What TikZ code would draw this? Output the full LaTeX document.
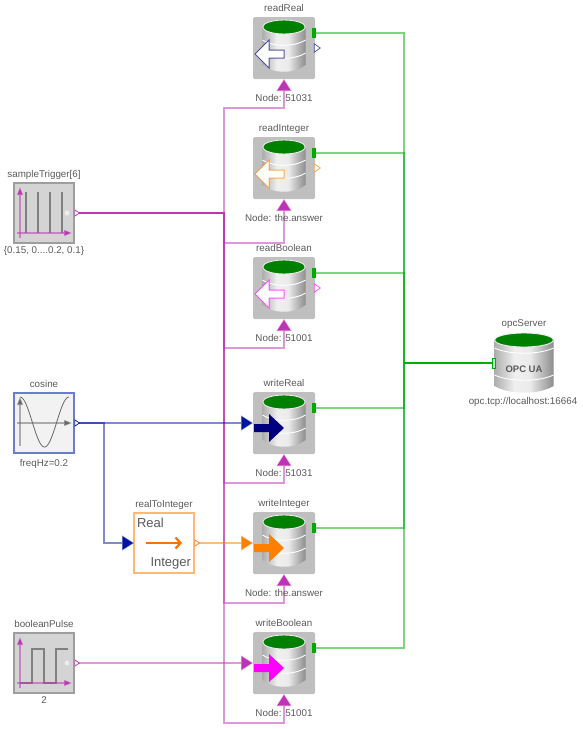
\documentclass[tikz,border=0pt]{standalone}
\usepackage{fontspec}
\setmainfont{Liberation Sans}
\usepackage{xcolor}
\usetikzlibrary{arrows.meta,positioning,shapes.geometric,calc}

\definecolor{opcBlue}{RGB}{0,0,127}
\definecolor{opcOrange}{RGB}{255,127,0}
\definecolor{opcPink}{RGB}{255,0,255}
\definecolor{wirePink}{RGB}{190,50,180}
\definecolor{wireBlue}{RGB}{0,20,160}
\definecolor{wireGreen}{RGB}{0,170,0}
\definecolor{labelGray}{RGB}{90,90,90}
\definecolor{drumGreen}{RGB}{0,128,0}
\definecolor{sineEdge}{RGB}{105,125,205}

\pgfdeclarehorizontalshading{drumshade}{100bp}{
  color(0bp)=(black!32); color(25bp)=(black!32); color(42bp)=(black!6);
  color(55bp)=(black!8); color(75bp)=(black!45); color(100bp)=(black!45)}

% center, half width, top, bottom, first ring, second ring
\newcommand{\dbdrum}[6]{
  \begin{scope}[shift={(#1)}]
    \shade[shading=drumshade] (-#2,#3) -- (-#2,#4) .. controls (-#2*.5,#4+9) and (#2*.5,#4+9) .. (#2,#4) -- (#2,#3) -- cycle;
    \draw[white,line width=.9pt] (-#2,#5) .. controls (-#2*.5,#5+7) and (#2*.5,#5+7) .. (#2,#5);
    \draw[white,line width=.9pt] (-#2,#6) .. controls (-#2*.5,#6+7) and (#2*.5,#6+7) .. (#2,#6);
    \draw[black!8,fill=drumGreen,line width=.9pt] (0,#3) ellipse ({#2-.2} and 7);
  \end{scope}
}

\tikzset{
  every node/.style={font=\fontsize{9.8}{12}\selectfont,text=labelGray,inner sep=0pt,outer sep=0pt},
  blocklabel/.style={text height=7.5pt,text depth=2pt},
  dbblock/.style={fill=black!25,rounded corners=1.5pt,minimum size=62pt},
  srcblock/.style={draw=black!38,fill=black!17,line width=1.3pt,minimum size=60pt},
  sineblock/.style={draw=sineEdge,fill=black!5,line width=1.3pt,minimum size=60pt},
  convblock/.style={draw=opcOrange!55,fill=white,line width=1.3pt,minimum size=60pt},
  portgreen/.style={fill=wireGreen,minimum width=4pt,minimum height=10pt},
  portopen/.style={draw=wireGreen,fill=wireGreen!25,line width=.8pt,minimum width=3.5pt,minimum height=10pt},
  outport/.style={isosceles triangle,isosceles triangle apex angle=70,draw,fill=white,line width=.7pt,minimum size=4.5pt},
  bigoutport/.style={outport,minimum size=6pt},
  wire/.style={line width=1.3pt,draw opacity=.5,line join=miter},
  pinkwire/.style={wire,draw=wirePink,-{Triangle[length=12pt,width=15pt]}},
  bluewire/.style={wire,draw=wireBlue,-{Triangle[length=12pt,width=15pt]}},
  orangewire/.style={wire,draw=opcOrange,-{Triangle[length=12pt,width=15pt]}},
  greenwire/.style={wire,draw=wireGreen},
  axis/.style={line width=1.3pt,draw opacity=.5,-{Triangle[length=8pt,width=6pt]}}
}

\begin{document}
\begin{tikzpicture}[x=1pt,y=-1pt]
\useasboundingbox (0,0) rectangle (582,729);

% database blocks
\foreach \bname/\by/\bcol in {readReal/48/opcBlue,readInteger/168/opcOrange,readBoolean/288/opcPink}{
  \node[dbblock] (\bname) at (284,\by) {};
  \dbdrum{\bname}{21.5}{-21}{17}{-8}{5}
  \draw[draw=\bcol,draw opacity=.65,fill=white,line width=1pt,shift={(\bname)}]
    (-29,6) -- (-15,-8) -- (-15,2) -- (0,2) -- (0,10) -- (-15,10) -- (-15,20) -- cycle;
  \node[portgreen] (\bname Port) at (314,\by-15) {};
  \node[bigoutport,draw=\bcol!70] (\bname Out) at (316.5,\by) {};
}
\foreach \bname/\by/\bcol in {writeReal/423/opcBlue,writeInteger/543/opcOrange,writeBoolean/663/opcPink}{
  \node[dbblock] (\bname) at (284,\by) {};
  \dbdrum{\bname}{21.5}{-21}{17}{-8}{5}
  \fill[\bcol,shift={(\bname)}]
    (0,5) -- (-15,-9) -- (-15,1) -- (-30,1) -- (-30,9) -- (-15,9) -- (-15,19) -- cycle;
  \node[portgreen] (\bname Port) at (314,\by-15) {};
}

% server
\coordinate (opcServer) at (524,363);
\dbdrum{opcServer}{29.5}{-23}{23}{-15}{12}
\node[portopen] (opcPort) at (494,363) {};
\node[font=\fontsize{9.5}{12}\selectfont\bfseries] (opcText) at (524,369) {OPC UA};

% sources
\node[srcblock] (sampleTrigger) at (44,213) {};
\node[sineblock] (cosine) at (44,423) {};
\node[convblock] (realToInteger) at (164,543) {};
\node[srcblock] (booleanPulse) at (44,663) {};

\begin{scope}[shift={(sampleTrigger)}]
  \foreach \xb in {-18,-6,6,18}{\draw[black!50,line width=1.3pt] (\xb,-21) -- (\xb,20);}
  \draw[axis,draw=wirePink] (-24,25) -- (-24,-26);
  \draw[axis,draw=wirePink] (-27,20) -- (28,20);
  \fill[black!7] (23,0) circle (2.5);
\end{scope}
\begin{scope}[shift={(cosine)}]
  \draw[axis,draw=black!60] (-24,23) -- (-24,-26);
  \draw[axis,draw=black!60] (-27,0) -- (28,0);
  \draw[black!60,line width=.8pt,domain=0:1,samples=40,smooth]
    plot ({-24+49*\x},{-1-25*cos(360*\x)});
\end{scope}
\begin{scope}[shift={(booleanPulse)}]
  \draw[black!50,line width=1.3pt] (-24,20) -- (-12,20) -- (-12,-14) -- (0,-14) -- (0,20) -- (12,20) -- (12,-14) -- (24,-14);
  \draw[axis,draw=wirePink] (-24,25) -- (-24,-26);
  \draw[axis,draw=wirePink] (-27,20) -- (28,20);
  \fill[black!7] (23,0) circle (2.5);
\end{scope}
\draw[opcOrange!90!red,line width=2.2pt,-{Straight Barb[length=5pt,width=11pt]}] (146,543) -- (182,543);

\node[outport,draw=wirePink] (sampleTriggerOut) at (76.5,213) {};
\node[outport,draw=wireBlue] (cosineOut) at (76.5,423) {};
\node[outport,draw=opcOrange] (realToIntegerOut) at (196.5,543) {};
\node[outport,draw=wirePink] (booleanPulseOut) at (76.5,663) {};

% connectors
\coordinate (busTop) at (224,213);
\coordinate (cosineFork) at (104,423);
\foreach \bname/\busy in {readReal/108,readInteger/243,readBoolean/348,writeReal/483,writeInteger/603,writeBoolean/723}{
  \draw[pinkwire] (sampleTriggerOut.east) -- (busTop) |- (\bname.south |- 0,\busy) -- (\bname.south);
}
\draw[bluewire] (cosineOut.east) -- (writeReal.west);
\draw[bluewire] (cosineOut.east) -- (cosineFork) |- (realToInteger.west);
\draw[orangewire] (realToIntegerOut.east) -- (writeInteger.west);
\draw[pinkwire] (booleanPulseOut.east) -- (writeBoolean.west);
\coordinate (greenBus) at (404,363);
\foreach \bname in {readReal,readInteger,readBoolean,writeReal,writeInteger,writeBoolean}{
  \draw[greenwire] (\bname Port.east) -| (greenBus) -- (opcPort.west);
}

% labels
\foreach \bname/\bnode in {readReal/51031,readInteger/the.answer,readBoolean/51001,writeReal/51031,writeInteger/the.answer,writeBoolean/51001}{
  \node[blocklabel,above=4pt of \bname] (\bname Name) {\bname};
  \node[blocklabel,below=15pt of \bname] (\bname Id) {Node: \bnode};
}
\node[blocklabel] (opcServerName) at (524,324) {opcServer};
\node[blocklabel] (opcUrl) at (523,402) {opc.tcp://localhost:16664};
\node[blocklabel,above=4pt of sampleTrigger] (sampleTriggerName) {sampleTrigger[6]};
\node[blocklabel,below=3pt of sampleTrigger] (sampleTriggerVal) {\{0.15, 0....0.2, 0.1\}};
\node[blocklabel,above=4pt of cosine] (cosineName) {cosine};
\node[blocklabel,below=6pt of cosine] (cosineVal) {freqHz=0.2};
\node[blocklabel,above=4pt of realToInteger] (realToIntegerName) {realToInteger};
\node[blocklabel,above=4pt of booleanPulse] (booleanPulseName) {booleanPulse};
\node[blocklabel,below=3pt of booleanPulse] (booleanPulseVal) {2};
\node[font=\fontsize{13}{15}\selectfont,anchor=west] (realText) at (137,523) {Real};
\node[font=\fontsize{13}{15}\selectfont,anchor=east] (integerText) at (191,563) {Integer};
\end{tikzpicture}
\end{document}
